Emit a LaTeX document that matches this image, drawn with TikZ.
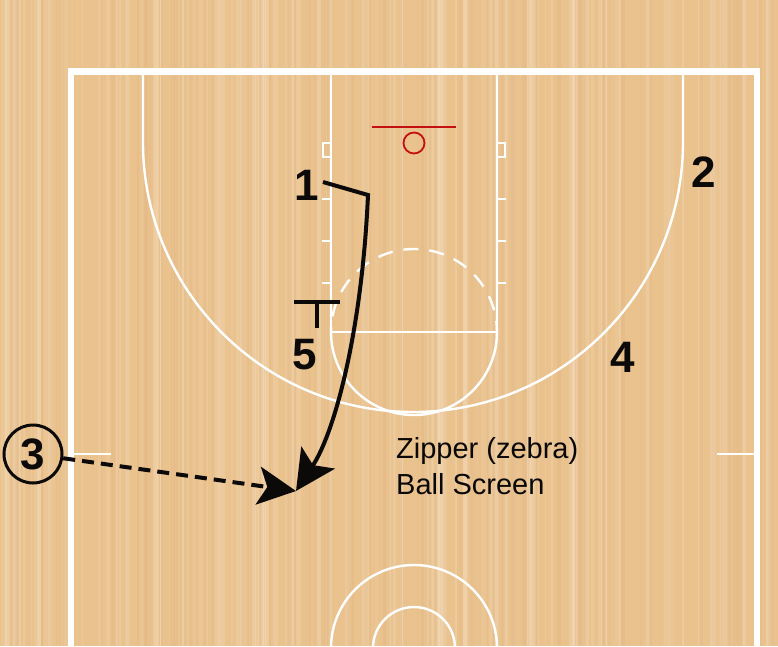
\documentclass[tikz,border=0pt]{standalone}
\usepackage{fontspec}
\setmainfont{Liberation Sans}
\usetikzlibrary{arrows.meta}
\definecolor{wood}{RGB}{234,194,142}
\definecolor{wooddark}{RGB}{214,168,112}
\definecolor{rimred}{RGB}{196,16,16}
\definecolor{ink}{RGB}{12,10,8}
\tikzset{
  court/.style={white, line width=2.4},
  bound/.style={white, line width=6.5},
  player/.style={font=\fontsize{44}{44}\selectfont\bfseries, text=ink, inner sep=0},
  lbl/.style={font=\fontsize{29}{29}\selectfont, text=ink!85!black, inner sep=0, anchor=base west},
  cutpath/.style={ink, line width=4, -{Stealth[length=40,width=40,inset=9]}},
  passpath/.style={ink, line width=4, dash pattern=on 12 off 7, -{Stealth[length=38,width=38,inset=9]}},
  screenbar/.style={ink, line width=3.5},
}
\begin{document}
\begin{tikzpicture}[x=1pt,y=1pt]
\useasboundingbox (0,0) rectangle (778,-646);
\clip (0,0) rectangle (778,-646);
% wood floor
\fill[wood] (0,0) rectangle (778,-646);
\pgfmathsetseed{11}
\foreach \i in {1,...,160}{
  \pgfmathsetmacro\xx{rnd*778}
  \pgfmathsetmacro\ww{0.8+rnd*5}
  \pgfmathsetmacro\op{0.04+rnd*0.12}
  \fill[white, opacity=\op] (\xx,0) rectangle ++(\ww,-646);
}
\foreach \i in {1,...,120}{
  \pgfmathsetmacro\xx{rnd*778}
  \pgfmathsetmacro\ww{0.8+rnd*4}
  \pgfmathsetmacro\op{0.04+rnd*0.13}
  \fill[wooddark, opacity=\op] (\xx,0) rectangle ++(\ww,-646);
}
% boundary
\draw[bound] (71,-660) -- (71,-71.5) -- (757,-71.5) -- (757,-660);
% side ticks
\draw[court] (74,-454) -- (111,-454);
\draw[court] (717,-454) -- (754,-454);
% three point line
\draw[court] (143,-74) -- (143,-142) arc[start angle=180, end angle=360, radius=270] -- (683,-74);
% lane
\draw[court] (331,-74) -- (331,-332) -- (497,-332) -- (497,-74);
% free throw circle
\draw[court] (331,-332) arc[start angle=180, end angle=360, radius=83];
\draw[court, dash pattern=on 15 off 11, dash phase=4] (497,-332) arc[start angle=0, end angle=180, radius=83];
% lane blocks and hash marks
\draw[court, line width=2] (331,-143) -- (323,-143) -- (323,-157) -- (331,-157);
\draw[court, line width=2] (497,-143) -- (505,-143) -- (505,-157) -- (497,-157);
\foreach \yy in {199,241,283}{
  \draw[court, line width=2] (322,-\yy) -- (331,-\yy);
  \draw[court, line width=2] (497,-\yy) -- (506,-\yy);
}
% center circles
\draw[court] (497,-648) arc[start angle=0, end angle=180, radius=83];
\draw[court] (455,-648) arc[start angle=0, end angle=180, radius=41];
% basket
\draw[rimred, line width=2.6] (372,-127) -- (456,-127);
\draw[rimred, line width=1.8] (414,-143) circle[radius=10.5];
% players
\node[player] (n1) at (307,-185) {1};
\node[player] (n2) at (704,-172) {2};
\node[player] (n4) at (623,-357) {4};
\node[player] (n5) at (305,-355) {5};
\node[player, circle, draw=ink, line width=3, minimum size=58] (n3) at (33,-454) {3};
% screen
\coordinate (sL) at (294,-302);
\coordinate (sR) at (340,-302);
\coordinate (sM) at (317,-302);
\coordinate (sB) at (317,-328);
\draw[screenbar] (sL) -- (sR);
\draw[screenbar] (sM) -- (sB);
% cut of 1
\coordinate (c1a) at (323,-182);
\coordinate (c1b) at (368,-195);
\coordinate (tip) at (296,-491);
\draw[cutpath, line join=miter] (c1a) -- (c1b) .. controls (362,-330) and (335,-432) .. (tip);
% pass / movement of 3
\draw[passpath] (n3) -- (tip);
% label
\node[lbl] (t1) at (396,-458) {Zipper (zebra)};
\node[lbl] (t2) at (396,-494) {Ball Screen};
\end{tikzpicture}
\end{document}
